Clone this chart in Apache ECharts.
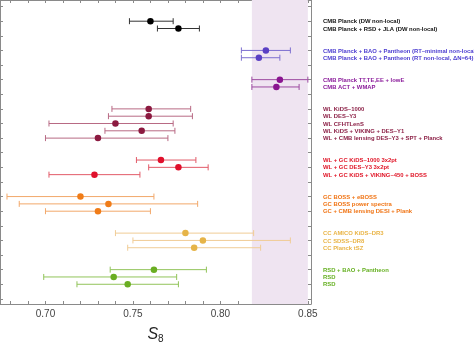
<!DOCTYPE html>
<html><head><meta charset="utf-8">
<script src="https://cdn.jsdelivr.net/npm/echarts@6/dist/echarts.min.js"></script>
<style>html,body{margin:0;padding:0;background:#fff}#c{width:474px;height:349px}</style>
</head><body><div id="c"></div>
<script>
// ---- data ----
const labels = [
  "CMB Planck (DW non-local)",
  "CMB Planck + RSD + JLA (DW non-local)",
  "CMB Planck + BAO + Pantheon (RT–minimal non-local)",
  "CMB Planck + BAO + Pantheon (RT non-local, ΔN=64)",
  "CMB Planck TT,TE,EE + lowE",
  "CMB ACT + WMAP",
  "WL KiDS–1000",
  "WL DES–Y3",
  "WL CFHTLenS",
  "WL KiDS + VIKING + DES–Y1",
  "WL + CMB lensing DES–Y3 + SPT + Planck",
  "WL + GC KiDS–1000 3x2pt",
  "WL + GC DES–Y3 3x2pt",
  "WL + GC KiDS + VIKING–450 + BOSS",
  "GC BOSS + eBOSS",
  "GC BOSS power spectra",
  "GC + CMB lensing DESI + Plank",
  "CC AMICO KiDS–DR3",
  "CC SDSS–DR8",
  "CC Planck tSZ",
  "RSD + BAO + Pantheon",
  "RSD",
  "RSD"
];
const rowPos  = [0, 1, 4, 5, 8, 9, 12, 13, 14, 15, 16, 19, 20, 21, 24, 25, 26, 29, 30, 31, 34, 35, 36];
const s8Center = [0.760, 0.776, 0.826, 0.822, 0.834, 0.832, 0.759, 0.759, 0.740, 0.755, 0.730, 0.766, 0.776, 0.728, 0.720, 0.736, 0.730, 0.780, 0.790, 0.785, 0.762, 0.739, 0.747];
const s8Low    = [0.748, 0.764, 0.812, 0.812, 0.818, 0.818, 0.738, 0.736, 0.702, 0.734, 0.700, 0.752, 0.759, 0.702, 0.678, 0.685, 0.700, 0.740, 0.750, 0.747, 0.737, 0.699, 0.718];
const s8High   = [0.773, 0.788, 0.840, 0.834, 0.850, 0.845, 0.783, 0.784, 0.773, 0.774, 0.770, 0.786, 0.793, 0.754, 0.762, 0.787, 0.760, 0.819, 0.840, 0.823, 0.792, 0.775, 0.776];
const groupIdx = [0, 0, 1, 1, 2, 2, 3, 3, 3, 3, 3, 4, 4, 4, 5, 5, 5, 6, 6, 6, 7, 7, 7];
const planckBand = [0.818, 0.850];
const xLabelTicks = [0.70, 0.75, 0.80, 0.85];
const xMinorTicks = [0.68, 0.69, 0.70, 0.71, 0.72, 0.73, 0.74, 0.75, 0.76, 0.77, 0.78, 0.79, 0.80, 0.81, 0.82, 0.83, 0.84, 0.85];
const yTicks = [-2, 0, 2, 4, 6, 8, 10, 12, 14, 16, 18, 20, 22, 24, 26, 28, 30, 32, 34, 36, 38];

// ---- styles ----
const groupStyles = [
  {pt:'#000000', bar:'#333333', text:'#111111'},
  {pt:'#5a3fc4', bar:'#7d6fd0', text:'#4b3cd0'},
  {pt:'#8a1590', bar:'#9c4aa0', text:'#8a1a9a'},
  {pt:'#8c1a40', bar:'#b86a84', text:'#8c2046'},
  {pt:'#e0102c', bar:'#e25a68', text:'#e01426'},
  {pt:'#f07c18', bar:'#f2a86a', text:'#f07414'},
  {pt:'#e6b448', bar:'#f0cc96', text:'#e9b446'},
  {pt:'#6aae22', bar:'#92c45a', text:'#66b022'}
];

const barData = rowPos.map((y, i) => [s8Low[i], y, s8High[i], groupIdx[i], i]);
const ptData = rowPos.map((y, i) => ({value: [s8Center[i], y], itemStyle: {color: groupStyles[groupIdx[i]].pt}}));

const yMin = -2.9, yMax = 38.7;
const axisCol = '#8a8a8a';
function yAx(pos){
  return {type:'value', position:pos, inverse:true, min:yMin, max:yMax,
    axisLine:{show:true, onZero:false, lineStyle:{color:axisCol, width:1}},
    axisTick:{show:true, inside:true, length:3, customValues:yTicks, lineStyle:{color:axisCol}},
    axisLabel:{show:false}, splitLine:{show:false}};
}
function xAx(pos, showLabel){
  return {type:'value', position:pos, min:0.674, max:0.8518,
    axisLine:{show:true, onZero:false, lineStyle:{color:axisCol, width:1}},
    axisTick:{show:true, inside:true, length:3, customValues:xMinorTicks, lineStyle:{color:axisCol}},
    axisLabel:{show:showLabel, customValues:xLabelTicks, formatter:v=>v.toFixed(2), fontSize:10, color:'#444', margin:5, fontFamily:'Liberation Sans'},
    splitLine:{show:false},
    name: showLabel ? '{s|S}{b|8}' : '',
    nameLocation:'middle', nameGap:21,
    nameTextStyle:{rich:{
      s:{fontSize:16, fontStyle:'italic', fontFamily:'Liberation Sans', color:'#222'},
      b:{fontSize:10, fontFamily:'Liberation Sans', color:'#222', padding:[9,0,0,0]}
    }}};
}

const chart = echarts.init(document.getElementById('c'), null, {renderer:'canvas'});
chart.setOption({
  animation:false,
  backgroundColor:'#ffffff',
  grid:{left:0, right:163, top:0, bottom:37},
  xAxis:[xAx('bottom', true), xAx('top', false)],
  yAxis:[yAx('left'), yAx('right')],
  series:[
    {type:'line', data:[], markArea:{silent:true, itemStyle:{color:'#efe4f1'},
      data:[[{xAxis:planckBand[0]},{xAxis:planckBand[1]}]]}},
    {type:'custom', clip:false, data:barData, encode:{x:[0,2], y:1},
      renderItem:function(params, api){
        const lo = api.value(0), y = api.value(1), hi = api.value(2);
        const g = groupStyles[api.value(3)];
        const idx = api.value(4);
        const p1 = api.coord([lo, y]), p2 = api.coord([hi, y]);
        const cs = params.coordSys;
        const h = 3;
        return {type:'group', children:[
          {type:'line', shape:{x1:p1[0], y1:p1[1], x2:p2[0], y2:p2[1]}, style:{stroke:g.bar, lineWidth:1}},
          {type:'line', shape:{x1:p1[0], y1:p1[1]-h, x2:p1[0], y2:p1[1]+h}, style:{stroke:g.bar, lineWidth:1}},
          {type:'line', shape:{x1:p2[0], y1:p2[1]-h, x2:p2[0], y2:p2[1]+h}, style:{stroke:g.bar, lineWidth:1}},
          {type:'text', x:cs.x+cs.width+12, y:p1[1]+0.5, style:{text:labels[idx], fill:g.text,
            font:'bold 5.9px "Liberation Sans", Arial, sans-serif', verticalAlign:'middle', align:'left'}}
        ]};
      }},
    {type:'scatter', data:ptData, symbol:'circle', symbolSize:6.5, itemStyle:{opacity:1}, z:5}
  ]
});
</script>
</body></html>
